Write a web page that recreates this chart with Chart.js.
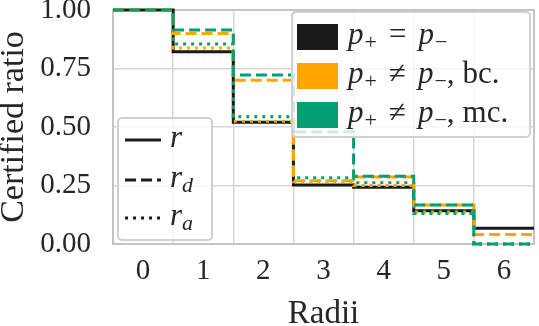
<!DOCTYPE html>
<html>
<head>
<meta charset="utf-8">
<script src="https://cdn.jsdelivr.net/npm/chart.js@4.4.1/dist/chart.umd.min.js"></script>
<style>
  body { margin: 0; background: #fff; }
  #wrap { width: 539px; height: 326px; }
</style>
</head>
<body>
<div id="wrap"><canvas id="myChart"></canvas></div>
<script>
// radii on the x axis
const radii = [0, 1, 2, 3, 4, 5, 6];
const yTicks = [0, 0.25, 0.5, 0.75, 1.0];

// certified ratio per radius
const equalR = [1.0, 0.822, 0.52, 0.252, 0.242, 0.142, 0.067];   // p+ = p-, r
const bcRd   = [1.0, 0.90, 0.70, 0.27, 0.286, 0.167, 0.041];     // bc., r_d
const bcRa   = [1.0, 0.838, 0.525, 0.266, 0.25, 0.137, 0.0];     // bc., r_a
const mcRd   = [1.0, 0.915, 0.722, 0.48, 0.29, 0.167, 0.0];      // mc., r_d
const mcRa   = [1.0, 0.855, 0.544, 0.283, 0.262, 0.13, 0.0];     // mc., r_a

const BLACK = '#1a1a1a';
const ORANGE = '#ffa500';
const GREEN = '#049e73';
const TEXT = '#262626';
const SERIF = "'Liberation Serif', serif";
const DASHED = [11, 5];
const DOTTED = [3, 5];

// each value covers radius-0.5 .. radius+0.5
function steps(vals) {
    let pts = radii.map((r, i) => ({ x: r - 0.5, y: vals[i] }));
    pts.push({ x: radii[radii.length - 1] + 0.5, y: vals[vals.length - 1] });
    return pts;
}

function series(vals, color, dash) {
    return {
        data: steps(vals),
        borderColor: color,
        borderWidth: 3,
        borderDash: dash,
        borderCapStyle: 'butt',
        stepped: 'before',
        pointRadius: 0,
        fill: false,
        clip: 4
    };
}

// text pieces drawn one after the other, {gap} just moves the pen
function drawRuns(ctx, x, y, runs) {
    runs.forEach(run => {
        if (run.gap) { x += run.gap; return; }
        ctx.font = run.f;
        ctx.fillText(run.t, x, y + (run.dy || 0));
        x += ctx.measureText(run.t).width;
    });
}

function roundBox(ctx, x, y, w, h, r) {
    ctx.beginPath();
    ctx.moveTo(x + r, y);
    ctx.arcTo(x + w, y, x + w, y + h, r);
    ctx.arcTo(x + w, y + h, x, y + h, r);
    ctx.arcTo(x, y + h, x, y, r);
    ctx.arcTo(x, y, x + w, y, r);
    ctx.closePath();
    ctx.fillStyle = 'rgba(255,255,255,0.8)';
    ctx.fill();
    ctx.strokeStyle = '#d0d0d0';
    ctx.lineWidth = 2;
    ctx.stroke();
}

const framePlugin = {
    id: 'frame',
    beforeDatasetsDraw(chart) {
        const a = chart.chartArea;
        const ctx = chart.ctx;
        ctx.save();
        ctx.strokeStyle = '#c4c4c4';
        ctx.lineWidth = 2;
        ctx.strokeRect(a.left, a.top, a.right - a.left, a.bottom - a.top);
        ctx.restore();
    }
};

const legendPlugin = {
    id: 'twoLegends',
    afterDatasetsDraw(chart) {
        const ctx = chart.ctx;
        const big = 'italic 31px ' + SERIF;
        const up = '31px ' + SERIF;
        const sub = '22px ' + SERIF;
        const subIt = 'italic 22px ' + SERIF;
        const pPlus = [{ t: 'p', f: big }, { gap: 1 }, { t: '+', f: sub, dy: 5 }];
        const pMinus = [{ t: 'p', f: big }, { gap: 1 }, { t: '\u2212', f: sub, dy: 5 }];
        ctx.save();
        ctx.textBaseline = 'alphabetic';

        // colour legend
        roundBox(ctx, 292, 12, 238, 125, 4);
        const rows = [
            { c: BLACK, y: 37, runs: [...pPlus, { gap: 12 }, { t: '=', f: up }, { gap: 12 }, ...pMinus] },
            { c: ORANGE, y: 76, runs: [...pPlus, { gap: 12 }, { t: '\u2260', f: up }, { gap: 12 }, ...pMinus, { t: ',', f: up }, { gap: 8 }, { t: 'bc.', f: up }] },
            { c: GREEN, y: 115, runs: [...pPlus, { gap: 12 }, { t: '\u2260', f: up }, { gap: 12 }, ...pMinus, { t: ',', f: up }, { gap: 8 }, { t: 'mc.', f: up }] }
        ];
        rows.forEach(row => {
            ctx.fillStyle = row.c;
            ctx.fillRect(297, row.y - 13, 41, 26);
            ctx.fillStyle = TEXT;
            drawRuns(ctx, 348, row.y + 7, row.runs);
        });

        // line style legend
        roundBox(ctx, 118, 118, 94, 122, 4);
        const styles = [
            { dash: [], y: 140, runs: [{ t: 'r', f: big }] },
            { dash: DASHED, y: 180, runs: [{ t: 'r', f: big }, { t: 'd', f: subIt, dy: 5 }] },
            { dash: DOTTED, y: 218, runs: [{ t: 'r', f: big }, { t: 'a', f: subIt, dy: 5 }] }
        ];
        styles.forEach(s => {
            ctx.strokeStyle = BLACK;
            ctx.lineWidth = 3;
            ctx.setLineDash(s.dash);
            ctx.beginPath();
            ctx.moveTo(125, s.y);
            ctx.lineTo(161, s.y);
            ctx.stroke();
            ctx.setLineDash([]);
            ctx.fillStyle = TEXT;
            drawRuns(ctx, 170, s.y + 7, s.runs);
        });
        ctx.restore();
    }
};

const ctx = document.getElementById('myChart').getContext('2d');
const myChart = new Chart(ctx, {
    type: 'line',
    data: {
        // first dataset is painted on top
        datasets: [
            series(mcRd, GREEN, DASHED),
            series(bcRd, ORANGE, DASHED),
            series(mcRa, GREEN, DOTTED),
            series(bcRa, ORANGE, DOTTED),
            series(equalR, BLACK, [])
        ]
    },
    options: {
        responsive: true,
        maintainAspectRatio: false,
        animation: false,
        layout: { padding: { top: 10, right: 5, left: 0, bottom: 0 } },
        plugins: { legend: { display: false }, tooltip: { enabled: false } },
        scales: {
            x: {
                type: 'linear',
                min: radii[0] - 0.5,
                max: radii[radii.length - 1] + 0.5,
                afterBuildTicks: scale => { scale.ticks = radii.map(v => ({ value: v })); },
                afterFit: scale => { scale.height = 82; scale.paddingLeft = 0; scale.paddingRight = 0; },
                ticks: { color: TEXT, font: { family: SERIF, size: 29 }, padding: 10, maxRotation: 0 },
                grid: { color: '#d6d6d6', lineWidth: 1.5, offset: true, drawTicks: false },
                border: { display: false },
                title: { display: true, text: 'Radii', color: TEXT, font: { family: SERIF, size: 33, lineHeight: 0.7 }, padding: 0 }
            },
            y: {
                min: 0,
                max: 1,
                afterBuildTicks: scale => { scale.ticks = yTicks.map(v => ({ value: v })); },
                afterFit: scale => { scale.width = 113; scale.paddingTop = 0; scale.paddingBottom = 0; },
                ticks: { color: TEXT, font: { family: SERIF, size: 29 }, padding: 22, callback: v => v.toFixed(2) },
                grid: { color: '#d6d6d6', lineWidth: 1.5, drawTicks: false },
                border: { display: false },
                title: { display: true, text: 'Certified ratio', color: TEXT, font: { family: SERIF, size: 34, lineHeight: 0.85 }, padding: 0 }
            }
        }
    },
    plugins: [framePlugin, legendPlugin]
});
</script>
</body>
</html>
